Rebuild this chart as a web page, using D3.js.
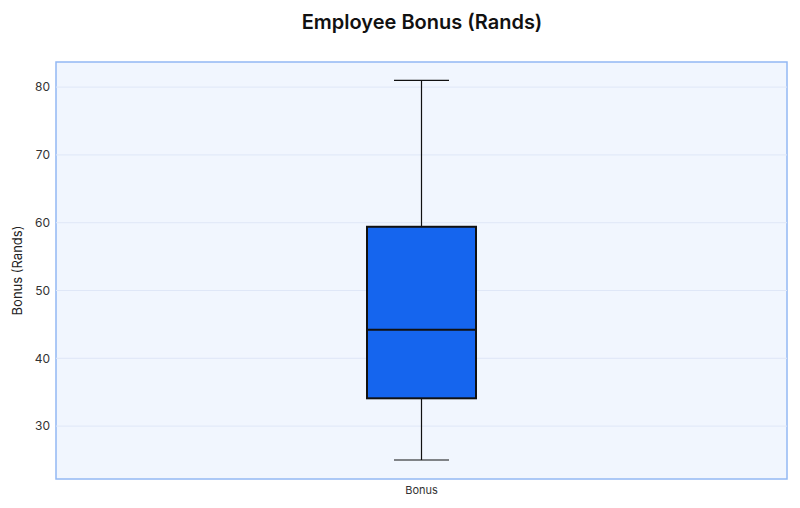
<!DOCTYPE html>
<html><head><meta charset="utf-8">
<script src="https://cdn.jsdelivr.net/npm/d3@7"></script>
<style>body{margin:0;background:#fff;font-family:Inter,"Noto Sans",sans-serif}</style>
</head><body><svg id="c" width="800" height="508"></svg>
<script>
const categories = ["Bonus"];
const whiskerLow = [25];
const q1 = [34.1];
const median = [44.2];
const q3 = [59.4];
const whiskerHigh = [81];
const yTicks = [30, 40, 50, 60, 70, 80];

const svg = d3.select("#c");
const m = {l:56, r:13, t:62, b:29};
const W = 800, H = 508;
const x = d3.scaleBand().domain(categories).range([m.l, W-m.r]);
const y = d3.scaleLinear().domain([22.2, 83.7]).range([H-m.b, m.t]);

svg.append("text").attr("x", 422).attr("y", 29).attr("text-anchor","middle")
  .attr("font-size", 20).attr("font-weight", 600).attr("fill","#111").text("Employee Bonus (Rands)");

svg.append("rect").attr("x", m.l).attr("y", m.t).attr("width", W-m.l-m.r).attr("height", H-m.t-m.b)
  .attr("fill","#f1f6fe").attr("stroke","#93b8f3").attr("stroke-width",1.5);

svg.append("g").selectAll("line").data(yTicks).join("line")
  .attr("x1", m.l).attr("x2", W-m.r).attr("y1", d=>y(d)).attr("y2", d=>y(d))
  .attr("stroke","#dfe7f7").attr("stroke-width",1);

const ya = svg.append("g").attr("transform",`translate(${m.l},0)`)
  .call(d3.axisLeft(y).tickValues(yTicks).tickSize(0).tickPadding(6));
ya.select(".domain").remove();
ya.selectAll("text").attr("font-size",12).attr("fill","#333").attr("font-family","Inter,sans-serif");

const xa = svg.append("g").attr("transform",`translate(0,${H-m.b})`)
  .call(d3.axisBottom(x).tickSize(0).tickPadding(7));
xa.select(".domain").remove();
xa.selectAll("text").attr("font-size",11).attr("fill","#333").attr("font-family","Inter,sans-serif");

svg.append("text").attr("transform",`translate(22,${(m.t+H-m.b)/2}) rotate(-90)`)
  .attr("text-anchor","middle").attr("font-size",13).attr("fill","#222").text("Bonus (Rands)");

const bw = 109, cw = 55;
categories.forEach((c,i)=>{
  const cx = x(c) + x.bandwidth()/2;
  const g = svg.append("g").attr("stroke","#111");
  g.append("line").attr("x1",cx).attr("x2",cx).attr("y1",y(whiskerHigh[i])).attr("y2",y(q3[i])).attr("stroke-width",1.2);
  g.append("line").attr("x1",cx).attr("x2",cx).attr("y1",y(q1[i])).attr("y2",y(whiskerLow[i])).attr("stroke-width",1.2);
  [whiskerHigh[i], whiskerLow[i]].forEach(v=>g.append("line").attr("x1",cx-cw/2).attr("x2",cx+cw/2).attr("y1",y(v)).attr("y2",y(v)).attr("stroke-width",1.2));
  g.append("rect").attr("x",cx-bw/2).attr("width",bw).attr("y",y(q3[i])).attr("height",y(q1[i])-y(q3[i]))
    .attr("fill","#1565ee").attr("stroke-width",2);
  g.append("line").attr("x1",cx-bw/2).attr("x2",cx+bw/2).attr("y1",y(median[i])).attr("y2",y(median[i])).attr("stroke-width",2);
});
</script></body></html>
